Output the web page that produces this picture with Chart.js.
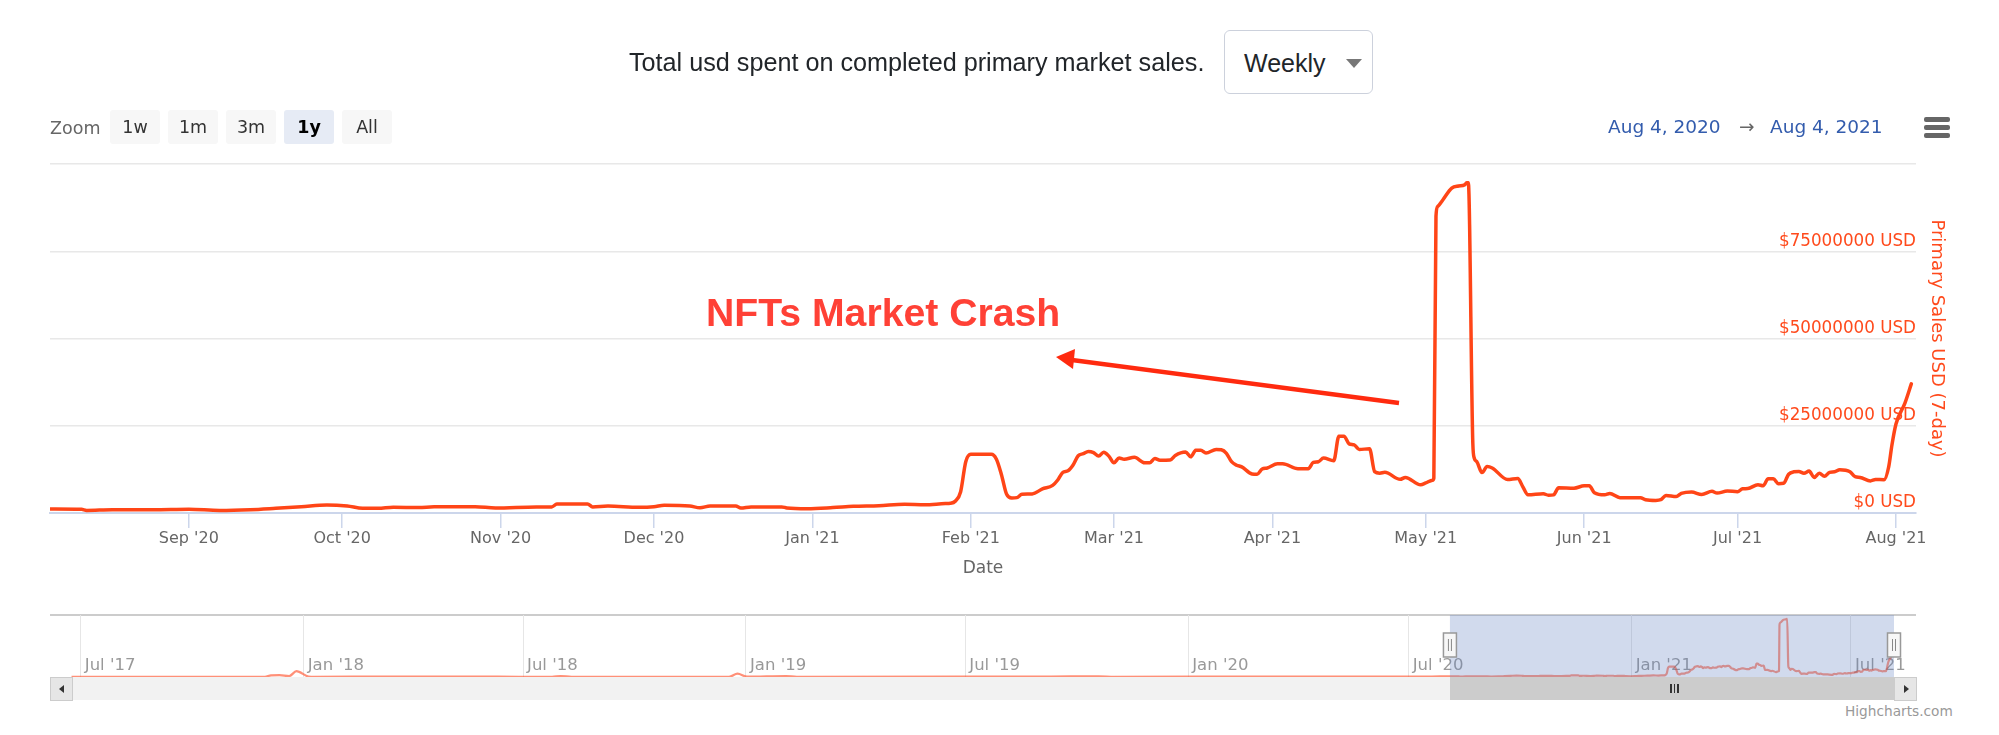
<!DOCTYPE html>
<html>
<head>
<meta charset="utf-8">
<script src="https://cdn.jsdelivr.net/npm/chart.js@4"></script>
<style>
html,body{margin:0;padding:0;background:#fff;width:1999px;height:735px;overflow:hidden}
#stage{position:relative;width:1999px;height:735px;font-family:"DejaVu Sans",sans-serif}
canvas{position:absolute;left:0}
.abs{position:absolute}
.title{left:629px;top:48px;font:25.2px "Liberation Sans",sans-serif;color:#212529;white-space:nowrap}
.select{left:1224px;top:30px;width:147px;height:62px;border:1.5px solid #ccd1dc;border-radius:6px;background:#fff}
.select span{position:absolute;left:19px;top:18px;font:25px "Liberation Sans",sans-serif;color:#212529}
.select i{position:absolute;left:121px;top:28px;width:0;height:0;border-left:8px solid transparent;border-right:8px solid transparent;border-top:9px solid #777}
.zoomlabel{left:50px;top:118px;font-size:17.5px;color:#666}
.btn{top:110px;width:50px;height:34px;background:#f7f7f7;border-radius:3px;text-align:center;line-height:34px;font-size:17.5px;color:#333}
.btn.on{background:#e6ebf5;font-weight:bold;color:#000}
.range{top:116px;font-size:18.5px;color:#335cad;white-space:nowrap}
.bar{left:1924px;width:26px;height:5px;border-radius:2px;background:#666}
.annot{left:706px;top:291px;font:bold 39.2px "Liberation Sans",sans-serif;color:#ff4136;white-space:nowrap}
.credit{left:1845px;top:703px;font-size:13.7px;color:#999;white-space:nowrap}
.navtop{left:50px;top:614px;width:1866px;height:2px;background:#ccc}
.track{left:50px;top:677px;width:1866px;height:23px;background:#f2f2f2}
.sbtn{top:677px;width:21px;height:22px;background:#e6e6e6;border:1px solid #ccc;box-sizing:content-box}
.thumb{left:1450px;top:677px;width:444px;height:23px;background:#ccc}
.tri{position:absolute;top:7px;width:0;height:0;border-top:4.5px solid transparent;border-bottom:4.5px solid transparent}
.grip{position:absolute;top:7px;width:1.5px;height:9px;background:#333}
</style>
</head>
<body>
<div id="stage">
  <canvas id="mainChart" width="1999" height="600" style="top:0"></canvas>
  <div class="abs navtop"></div>
  <div class="abs track"></div>
  <div class="abs thumb"><div class="grip" style="left:220px"></div><div class="grip" style="left:223.5px"></div><div class="grip" style="left:227px"></div></div>
  <div class="abs sbtn" style="left:50px"><div class="tri" style="left:8px;border-right:5px solid #333"></div></div>
  <div class="abs sbtn" style="left:1894px"><div class="tri" style="left:9px;border-left:5px solid #333"></div></div>
  <canvas id="navChart" width="1999" height="72" style="top:610px"></canvas>

  <div class="abs title">Total usd spent on completed primary market sales.</div>
  <div class="abs select"><span>Weekly</span><i></i></div>
  <div class="abs zoomlabel">Zoom</div>
  <div class="abs btn" style="left:110px">1w</div>
  <div class="abs btn" style="left:168px">1m</div>
  <div class="abs btn" style="left:226px">3m</div>
  <div class="abs btn on" style="left:284px">1y</div>
  <div class="abs btn" style="left:342px">All</div>
  <div class="abs range" style="left:1608px">Aug 4, 2020</div>
  <div class="abs range" style="left:1739px;color:#666">→</div>
  <div class="abs range" style="left:1770px">Aug 4, 2021</div>
  <div class="abs bar" style="top:117px"></div>
  <div class="abs bar" style="top:125px"></div>
  <div class="abs bar" style="top:133px"></div>
  <div class="abs annot">NFTs Market Crash</div>
  <svg class="abs" style="left:0;top:0;pointer-events:none" width="1999" height="600">
    <line x1="1399" y1="403" x2="1072" y2="360" stroke="#ff2a0f" stroke-width="4.5"/>
    <polygon points="1056,357 1075,349 1073,369" fill="#ff2a0f"/>
  </svg>
  <div class="abs credit">Highcharts.com</div>
</div>
<script>
const salesDates = [
"2020-08-04T20:00","2020-08-11","2020-08-12","2020-08-17","2020-08-25","2020-09-01","2020-09-07","2020-09-13","2020-09-18","2020-09-23","2020-09-28",
"2020-10-02","2020-10-05","2020-10-08","2020-10-11","2020-10-16","2020-10-19","2020-10-27","2020-10-31",
"2020-11-08","2020-11-11","2020-11-12","2020-11-18","2020-11-19","2020-11-22","2020-11-28",
"2020-12-01","2020-12-03","2020-12-08","2020-12-10","2020-12-12","2020-12-17","2020-12-18","2020-12-20","2020-12-26","2020-12-27","2020-12-31",
"2021-01-05","2021-01-09","2021-01-14","2021-01-19","2021-01-23","2021-01-27","2021-01-28","2021-01-29","2021-01-30","2021-01-31",
"2021-02-01","2021-02-05","2021-02-06","2021-02-07","2021-02-08","2021-02-09","2021-02-10","2021-02-11","2021-02-13","2021-02-15","2021-02-17","2021-02-18","2021-02-19","2021-02-20","2021-02-21","2021-02-22","2021-02-23","2021-02-24","2021-02-25","2021-02-26","2021-02-27","2021-02-28",
"2021-03-01","2021-03-02","2021-03-03","2021-03-05","2021-03-07","2021-03-08","2021-03-09","2021-03-10","2021-03-12","2021-03-13","2021-03-15","2021-03-16","2021-03-17","2021-03-18","2021-03-19","2021-03-21","2021-03-22","2021-03-23","2021-03-24","2021-03-25","2021-03-26","2021-03-28","2021-03-29","2021-03-30","2021-03-31",
"2021-04-02","2021-04-03","2021-04-06","2021-04-08","2021-04-09","2021-04-10","2021-04-11","2021-04-13","2021-04-14","2021-04-15","2021-04-16","2021-04-17","2021-04-18","2021-04-20","2021-04-21","2021-04-22","2021-04-23","2021-04-26","2021-04-27","2021-04-30",
"2021-05-01","2021-05-02T08:00","2021-05-02T14:00","2021-05-03T00:00","2021-05-03T08:00","2021-05-04T08:00","2021-05-06T02:00","2021-05-07T10:00","2021-05-08T14:00","2021-05-09T00:00","2021-05-09T08:00","2021-05-10T05:00","2021-05-10T12:00","2021-05-11","2021-05-12","2021-05-13","2021-05-14","2021-05-17","2021-05-19","2021-05-20","2021-05-21","2021-05-24","2021-05-25","2021-05-26","2021-05-27","2021-05-30",
"2021-06-01","2021-06-02","2021-06-03","2021-06-05","2021-06-06","2021-06-08","2021-06-12","2021-06-13","2021-06-15","2021-06-16","2021-06-17","2021-06-19","2021-06-20","2021-06-22","2021-06-24","2021-06-26","2021-06-27","2021-06-29",
"2021-07-01","2021-07-02","2021-07-03","2021-07-05","2021-07-06","2021-07-07","2021-07-08","2021-07-09","2021-07-10","2021-07-11","2021-07-12","2021-07-13","2021-07-14","2021-07-15","2021-07-16","2021-07-17","2021-07-18","2021-07-19","2021-07-20","2021-07-21","2021-07-23","2021-07-24","2021-07-25","2021-07-27","2021-07-28","2021-07-29T16:00","2021-07-30T14:00","2021-07-31T05:00",
"2021-08-01","2021-08-02T18:00","2021-08-04"
];
const salesMillions = [
1.15,1.05,0.75,0.95,0.9,1.05,0.75,0.95,1.35,1.8,2.3,
2.0,1.35,1.35,1.65,1.55,1.8,1.8,1.45,
1.75,1.75,2.55,2.6,1.75,2.0,1.65,
1.8,2.2,2.0,1.5,2.0,2.0,1.45,1.75,1.75,1.45,1.25,
1.55,1.9,2.1,2.5,2.35,2.7,2.77,3.44,6.1,14.7,
16.8,16.8,15.4,10.9,5.35,4.3,4.4,5.35,5.45,6.9,7.9,9.45,11.65,12.1,13.75,16.4,17.0,17.65,17.3,16.3,17.4,16.3,
14.4,15.76,15.4,15.95,14.4,14.4,15.6,15.1,15.2,16.5,17.5,16.1,17.95,18.0,17.2,18.2,18.1,17.1,14.7,13.7,13.2,11.2,11.1,12.6,12.9,
14.1,14.1,12.7,12.7,14.5,14.7,15.75,15.0,21.97,22.0,19.8,19.5,18.2,18.4,11.85,11.4,11.65,9.65,10.2,8.1,
8.6,9.4,10.0,85.0,87.8,89.7,93.1,93.7,94.0,94.6,94.6,20.0,15.7,14.7,11.6,13.3,12.9,9.6,9.9,7.5,5.2,5.5,5.1,5.2,7.2,7.1,
7.8,7.8,5.8,5.2,5.6,4.4,4.4,3.8,3.6,3.8,5.0,4.7,5.6,6.0,5.3,6.2,5.7,6.3,
6.1,6.95,7.0,8.1,7.8,9.8,9.8,8.4,8.5,11.1,11.8,11.9,11.4,12.0,10.2,11.4,10.5,11.65,11.8,12.4,11.8,10.4,10.2,9.2,9.6,9.55,13.3,19.5,
25.5,31.5,37.0
];
const historyDates = ["2017-06-23","2017-11-30","2017-12-05","2017-12-12","2017-12-20","2017-12-26","2018-01-05","2018-01-10","2018-03-15","2018-06-10","2018-07-25","2018-08-01","2018-08-10","2018-09-15","2018-12-18","2018-12-25","2019-01-02","2019-02-03","2019-02-12","2019-07-01","2019-09-10","2019-10-19","2019-11-01","2020-01-10","2020-02-15","2020-04-10","2020-06-15","2020-07-20"];
const historyMillions = [0.1,0.2,2.8,3.0,1.5,9.5,0.8,0.4,0.6,0.5,0.3,1.6,0.3,0.3,0.3,5.5,0.5,1.5,0.4,0.5,0.8,1.2,0.4,0.5,0.6,0.7,0.6,0.8];

const monthTicks = ["2020-09-01","2020-10-01","2020-11-01","2020-12-01","2021-01-01","2021-02-01","2021-03-01","2021-04-01","2021-05-01","2021-06-01","2021-07-01","2021-08-01"];
const monthLabels = ["Sep '20","Oct '20","Nov '20","Dec '20","Jan '21","Feb '21","Mar '21","Apr '21","May '21","Jun '21","Jul '21","Aug '21"];
const yTicksMillions = [0,25,50,75,100];
const navTicks = ["2017-07-01","2018-01-01","2018-07-01","2019-01-01","2019-07-01","2020-01-01","2020-07-01","2021-01-01","2021-07-01"];
const navLabels = ["Jul '17","Jan '18","Jul '18","Jan '19","Jul '19","Jan '20","Jul '20","Jan '21","Jul '21"];
const viewStart = "2020-08-04T20:00", viewEnd = "2021-08-04T22:00";
const navStart = "2017-06-23T08:00", navEnd = "2021-08-05T12:00";
const selStart = "2020-08-04", selEnd = "2021-08-05T12:00";

const toTime = s => Date.parse(s.length > 10 ? s + ":00Z" : s + "T00:00:00Z");
const pts = (ds, vs) => ds.map((d, i) => ({x: toTime(d), y: vs[i] * 1e6}));
const lineColor = "#ff4517", axisColor = "#ccd6eb";

new Chart(document.getElementById("mainChart"), {
  type: "line",
  data: {datasets: [{data: pts(salesDates, salesMillions), borderColor: lineColor, borderWidth: 3.5, pointRadius: 0, cubicInterpolationMode: "monotone", borderJoinStyle: "round", borderCapStyle: "round"}]},
  options: {
    responsive: false, animation: false, devicePixelRatio: 1, parsing: false, normalized: true,
    layout: {padding: {left: 50, top: 164, right: 52, bottom: 21}},
    plugins: {legend: {display: false}, tooltip: {enabled: false}, title: {display: false}},
    scales: {
      x: {
        type: "linear", min: toTime(viewStart), max: toTime(viewEnd),
        afterBuildTicks: s => { s.ticks = monthTicks.map(d => ({value: toTime(d)})); },
        afterFit: s => { s.height = 66; },
        grid: {drawOnChartArea: false, drawTicks: true, tickLength: 15, tickColor: axisColor, lineWidth: 1.5},
        border: {color: axisColor, width: 2},
        ticks: {autoSkip: false, maxRotation: 0, minRotation: 0, padding: 1, color: "#666", font: {family: "DejaVu Sans", size: 16},
          callback: (v, i) => monthLabels[i]},
        title: {display: true, text: "Date", color: "#666", font: {family: "DejaVu Sans", size: 17}, padding: {top: 7, bottom: 0}}
      },
      y: {
        position: "right", min: 0, max: 100e6,
        afterBuildTicks: s => { s.ticks = yTicksMillions.map(v => ({value: v * 1e6})); },
        afterFit: s => { s.width = 31; },
        grid: {color: "#e8e8e8", lineWidth: 1.5, drawTicks: false},
        border: {display: false},
        ticks: {mirror: true, padding: 0, labelOffset: -10, color: "#ff4a1c", font: {family: "DejaVu Sans", size: 16.75},
          callback: v => v >= 100e6 ? "" : "$" + v + " USD"},
        title: {display: true, text: "Primary Sales USD (7-day)", color: "#ff4a1c", font: {family: "DejaVu Sans", size: 18}, padding: {top: 0, bottom: 0}}
      }
    }
  }
});

const navOverlay = {
  id: "navOverlay",
  beforeDatasetsDraw(c) {
    const ctx = c.ctx, s = c.scales.x;
    ctx.save();
    ctx.font = "16.5px 'DejaVu Sans'"; ctx.fillStyle = "#999"; ctx.textBaseline = "middle"; ctx.textAlign = "left";
    navTicks.forEach((d, i) => ctx.fillText(navLabels[i], s.getPixelForValue(toTime(d)) + 4, 666 - 610));
    ctx.restore();
  },
  afterDraw(c) {
    const ctx = c.ctx, s = c.scales.x, a = c.chartArea;
    const x1 = s.getPixelForValue(toTime(selStart)), x2 = s.getPixelForValue(toTime(selEnd));
    ctx.save();
    ctx.fillStyle = "rgba(102,133,194,0.3)";
    ctx.fillRect(x1, a.top, x2 - x1, a.bottom - a.top);
    [x1, x2].forEach(x => {
      ctx.fillStyle = "#f7f7f7"; ctx.strokeStyle = "#999"; ctx.lineWidth = 1.5;
      ctx.beginPath(); ctx.rect(x - 6.5, 23, 13, 24); ctx.fill(); ctx.stroke();
      ctx.strokeStyle = "#888"; ctx.lineWidth = 1;
      ctx.beginPath(); ctx.moveTo(x - 1.5, 29); ctx.lineTo(x - 1.5, 41); ctx.moveTo(x + 1.5, 29); ctx.lineTo(x + 1.5, 41); ctx.stroke();
    });
    ctx.restore();
  }
};
new Chart(document.getElementById("navChart"), {
  type: "line",
  data: {datasets: [{data: pts(historyDates.concat(salesDates), historyMillions.concat(salesMillions)), borderColor: "rgba(255,70,30,0.6)", borderWidth: 2.2, pointRadius: 0, cubicInterpolationMode: "monotone"}]},
  options: {
    responsive: false, animation: false, devicePixelRatio: 1, parsing: false, normalized: true,
    layout: {padding: {left: 71.5, right: 105, top: 5, bottom: 5}},
    plugins: {legend: {display: false}, tooltip: {enabled: false}},
    scales: {
      x: {
        type: "linear", min: toTime(navStart), max: toTime(navEnd),
        afterBuildTicks: s => { s.ticks = navTicks.map(d => ({value: toTime(d)})); },
        afterFit: s => { s.height = 0; },
        grid: {color: "#e6e6e6", lineWidth: 1, drawTicks: false},
        border: {display: false},
        ticks: {display: false, autoSkip: false}
      },
      y: {display: false, min: 0, max: 101e6}
    }
  },
  plugins: [navOverlay]
});
</script>
</body>
</html>
